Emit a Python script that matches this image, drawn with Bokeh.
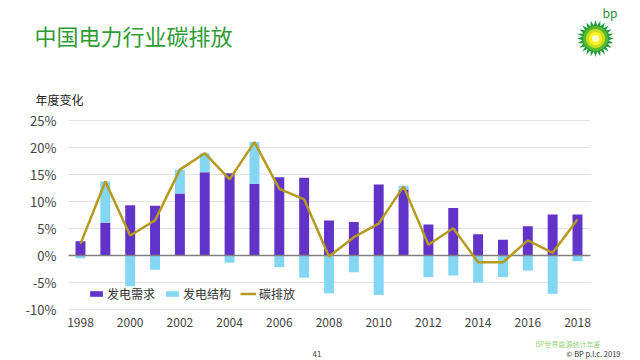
import numpy as np
from bokeh.plotting import figure
from bokeh.models import (ColumnDataSource, FixedTicker, Label, Legend,
                          LegendItem, PolyAnnotation, LinearAxis)
from bokeh.embed import file_html
from bokeh.resources import INLINE

# ---- data ----
years = [1998, 1999, 2000, 2001, 2002, 2003, 2004, 2005, 2006, 2007, 2008,
         2009, 2010, 2011, 2012, 2013, 2014, 2015, 2016, 2017, 2018]
demand = [2.65, 6.05, 9.3, 9.2, 11.5, 15.4, 15.25, 13.3, 14.5, 14.4, 6.5,
          6.2, 13.15, 12.2, 5.75, 8.8, 3.95, 2.9, 5.4, 7.6, 7.6]
structure = [-0.5, 7.65, -5.7, -2.65, 4.4, 3.5, -1.35, 7.7, -2.15, -4.1, -7.0,
             -3.1, -7.3, 0.7, -4.0, -3.7, -5.0, -4.0, -2.8, -7.1, -1.05]
emissions = [2.15, 13.7, 3.7, 6.5, 15.9, 18.95, 14.1, 21.0, 12.35, 10.4, -0.2,
             3.4, 5.9, 12.8, 2.0, 5.05, -1.25, -1.25, 2.8, 0.5, 6.65]
y_ticks = [-10, -5, 0, 5, 10, 15, 20, 25]
y_tick_labels = ["-10%", "-5%", "0%", "5%", "10%", "15%", "20%", "25%"]
x_ticks = [1998, 2000, 2002, 2004, 2006, 2008, 2010, 2012, 2014, 2016, 2018]
x_tick_labels = ["1998", "2000", "2002", "2004", "2006", "2008", "2010",
                 "2012", "2014", "2016", "2018"]
title_text = "中国电力行业碳排放"
y_label = "年度变化"
series_names = ["发电需求", "发电结构", "碳排放"]

FONT = "Noto Sans CJK SC"
PURPLE = "#6133c9"
LBLUE = "#84d6f5"
GOLD = "#b59a1e"
GREEN = "#2f9b35"

# chart area extents (style: where the plotting area sits on the slide)
X0, X1 = 1997.517, 2018.523
W, H = 640, 360

d = np.array(demand)
s = np.array(structure)
s_bottom = np.where(s > 0, d, 0.0)
s_top = np.where(s > 0, d + s, s)

src = ColumnDataSource(dict(year=years, demand=demand, zero=[0.0] * len(years),
                            s_bottom=s_bottom, s_top=s_top, emis=emissions))

p = figure(width=W, height=H, output_backend="svg", toolbar_location=None,
           x_range=(1994.781, 2020.535), y_range=(-19.444, 47.222),
           min_border=0, outline_line_color=None, x_axis_type=None,
           y_axis_type=None, background_fill_color="white",
           border_fill_color="white")
p.xgrid.grid_line_color = None
p.ygrid.grid_line_color = None

# grid lines over the chart area only
gy = np.array([t for t in y_ticks if t != 0], dtype=float)
p.segment(x0=[X0] * len(gy), x1=[X1] * len(gy), y0=gy, y1=gy,
          line_color="#e3e3e3", line_width=1)

r_dem = p.vbar(x="year", bottom="zero", top="demand", width=0.4, source=src,
               fill_color=PURPLE, line_color=None)
r_str = p.vbar(x="year", bottom="s_bottom", top="s_top", width=0.4, source=src,
               fill_color=LBLUE, line_color=None)
p.segment(x0=[X0], x1=[X1], y0=[0.0], y1=[0.0], line_color="#7f7f7f",
          line_width=1.5)
r_em = p.line(x="year", y="emis", source=src, line_color=GOLD, line_width=2.5)

# axes drawn at fixed locations inside the frame
xaxis = LinearAxis(fixed_location=y_ticks[0], ticker=FixedTicker(ticks=x_ticks),
                   major_label_overrides=dict(zip(x_ticks, x_tick_labels)))
yaxis = LinearAxis(fixed_location=X0, ticker=FixedTicker(ticks=y_ticks),
                   major_label_overrides=dict(zip(y_ticks, y_tick_labels)))
p.add_layout(xaxis, "below")
p.add_layout(yaxis, "left")
for ax in (xaxis, yaxis):
    ax.axis_line_color = None
    ax.major_tick_line_color = None
    ax.minor_tick_line_color = None
    ax.major_label_text_font = FONT
    ax.major_label_text_color = "#444444"
xaxis.major_label_text_font_size = "12px"
yaxis.major_label_text_font_size = "13px"
yaxis.major_label_standoff = 6
xaxis.major_label_standoff = 2

legend = Legend(items=[LegendItem(label=series_names[0], renderers=[r_dem]),
                       LegendItem(label=series_names[1], renderers=[r_str]),
                       LegendItem(label=series_names[2], renderers=[r_em])],
                orientation="horizontal", location=(88, 58),
                background_fill_alpha=0, border_line_color=None,
                label_text_font=FONT, label_text_font_size="12px",
                label_text_color="#333333", glyph_width=16, glyph_height=7,
                spacing=9, label_standoff=3, padding=4, margin=0)
p.add_layout(legend)

# texts (screen units, page pixels with y measured from the bottom)
def lab(txt, x, y, size, color, align="left", baseline="middle"):
    p.add_layout(Label(x=x, y=H - y, x_units="screen", y_units="screen",
                       text=txt, text_font=FONT, text_font_size=size,
                       text_color=color, text_align=align,
                       text_baseline=baseline))

lab(title_text, 34, 34, "22px", GREEN)
lab(y_label, 35, 99, "12px", "#222222")
lab("41", 312, 353, "8px", "#444444")
lab("BP世界能源统计年鉴", 535, 343, "7px", "#9ad27c")
lab("© BP p.l.c. 2019", 620, 353, "7.5px", "#333333", align="right")
lab("bp", 602, 12, "12px", "#2e8b3a")

# bp helios logo (decorative)
cx, cy = 595, H - 38
n = 24
ang = np.linspace(0, 2 * np.pi, 2 * n, endpoint=False) + np.pi / 2
rad = np.where(np.arange(2 * n) % 2 == 0, 18.5, 13.0)
p.add_layout(PolyAnnotation(xs=list(cx + rad * np.cos(ang)),
                            ys=list(cy + rad * np.sin(ang)),
                            xs_units="screen", ys_units="screen",
                            fill_color="#1e9a3b", fill_alpha=1, line_color=None))
t = np.linspace(0, 2 * np.pi, 48, endpoint=False)
for r, c in [(12.5, "#5cb82e"), (9.5, "#c9de1e"), (6.5, "#fff020"), (3.5, "#ffffd8")]:
    p.add_layout(PolyAnnotation(xs=list(cx + r * np.cos(t)),
                                ys=list(cy + r * np.sin(t)),
                                xs_units="screen", ys_units="screen",
                                fill_color=c, fill_alpha=1, line_color=None))

open("out.html", "w").write(file_html(p, INLINE))
